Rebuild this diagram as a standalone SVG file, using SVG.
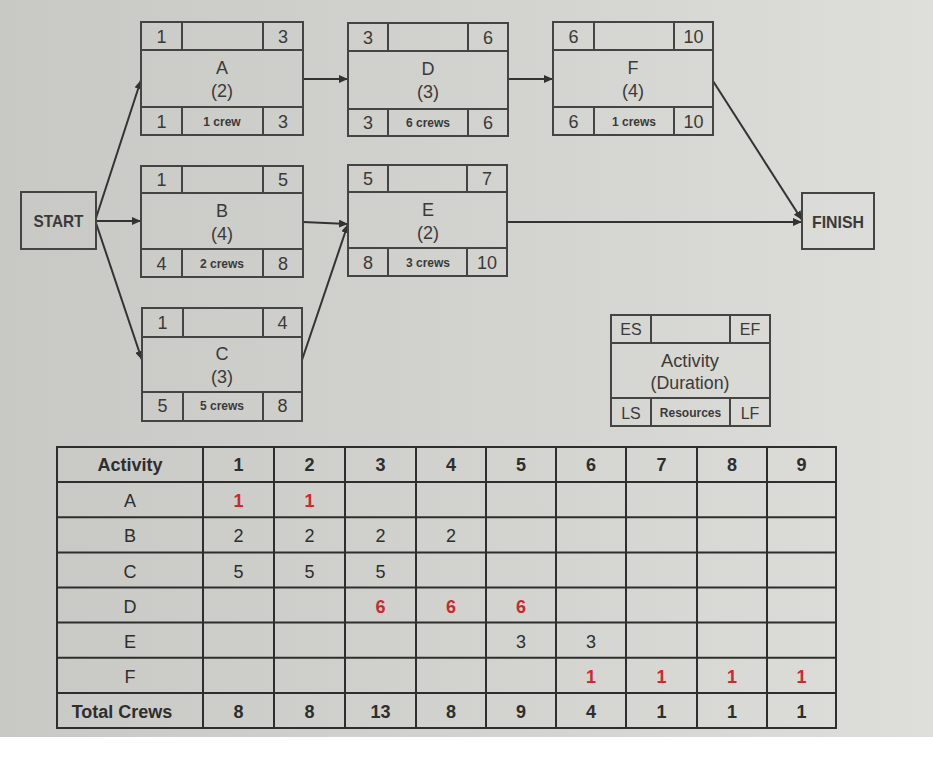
<svg xmlns="http://www.w3.org/2000/svg" width="933" height="757" viewBox="0 0 933 757">
<defs>
<linearGradient id="bg" x1="0" y1="0" x2="1" y2="0">
<stop offset="0" stop-color="#c8c8c4"/>
<stop offset="0.6" stop-color="#d4d4d0"/>
<stop offset="1" stop-color="#dededa"/>
</linearGradient>
<marker id="ah" viewBox="0 0 9 8" refX="9" refY="4" markerWidth="9" markerHeight="8" markerUnits="userSpaceOnUse" orient="auto">
<path d="M0,0 L9,4 L0,8 z" fill="#333"/>
</marker>
<style>
.box{fill:none;stroke:#444;stroke-width:2}
.ln{stroke:#444;stroke-width:2}
.t{font-family:"Liberation Sans",Arial,sans-serif;fill:#3a3a3a;text-anchor:middle}
.n{font-size:18px}
.r{font-size:12px;font-weight:bold}
.b{font-weight:bold}
.conn{stroke:#333;stroke-width:2;fill:none;marker-end:url(#ah)}
.grid{stroke:#2e2e2e;stroke-width:2;fill:none}
.tt{font-family:"Liberation Sans",Arial,sans-serif;fill:#2e2e2e;text-anchor:middle;font-size:18px}
.red{fill:#cc2a33;font-weight:bold}
</style>
</defs>
<rect x="0" y="0" width="933" height="737" fill="url(#bg)"/>
<rect x="0" y="737" width="933" height="20" fill="#ffffff"/>

<g id="connectors">
<line class="conn" x1="96" y1="218" x2="141" y2="80"/>
<line class="conn" x1="96" y1="221" x2="141" y2="221"/>
<line class="conn" x1="96" y1="223" x2="142" y2="360"/>
<line class="conn" x1="303" y1="79" x2="348" y2="79"/>
<line class="conn" x1="508" y1="79" x2="553" y2="79"/>
<line class="conn" x1="303" y1="222" x2="348" y2="224"/>
<line class="conn" x1="302" y1="360" x2="348" y2="224"/>
<line class="conn" x1="713" y1="81" x2="802" y2="220"/>
<line class="conn" x1="507" y1="222" x2="802" y2="222"/>
</g>

<g id="start">
<rect class="box" x="21" y="192" width="75" height="57"/>
<text class="t b" x="58.5" y="227" font-size="17" textLength="50" lengthAdjust="spacingAndGlyphs">START</text>
</g>

<g id="finish">
<rect class="box" x="802" y="193" width="72" height="56"/>
<text class="t b" x="838" y="228" font-size="17" textLength="52" lengthAdjust="spacingAndGlyphs">FINISH</text>
</g>

<g id="nodeA">
<rect class="box" x="141" y="22" width="162" height="113"/>
<line class="ln" x1="141" y1="50" x2="303" y2="50"/>
<line class="ln" x1="141" y1="107" x2="303" y2="107"/>
<line class="ln" x1="182" y1="22" x2="182" y2="50"/>
<line class="ln" x1="263" y1="22" x2="263" y2="50"/>
<line class="ln" x1="182" y1="107" x2="182" y2="135"/>
<line class="ln" x1="263" y1="107" x2="263" y2="135"/>
<text class="t n" x="161.5" y="43">1</text>
<text class="t n" x="283" y="43">3</text>
<text class="t n" x="222" y="74">A</text>
<text class="t n" x="222" y="97">(2)</text>
<text class="t n" x="161.5" y="128">1</text>
<text class="t r" x="222" y="126">1 crew</text>
<text class="t n" x="283" y="128">3</text>
</g>

<g id="nodeD">
<rect class="box" x="348" y="23" width="160" height="113"/>
<line class="ln" x1="348" y1="51" x2="508" y2="51"/>
<line class="ln" x1="348" y1="109" x2="508" y2="109"/>
<line class="ln" x1="388" y1="23" x2="388" y2="51"/>
<line class="ln" x1="468" y1="23" x2="468" y2="51"/>
<line class="ln" x1="388" y1="109" x2="388" y2="136"/>
<line class="ln" x1="468" y1="109" x2="468" y2="136"/>
<text class="t n" x="368" y="44">3</text>
<text class="t n" x="488" y="44">6</text>
<text class="t n" x="428" y="75">D</text>
<text class="t n" x="428" y="98">(3)</text>
<text class="t n" x="368" y="129">3</text>
<text class="t r" x="428" y="127">6 crews</text>
<text class="t n" x="488" y="129">6</text>
</g>

<g id="nodeF">
<rect class="box" x="553" y="22" width="160" height="113"/>
<line class="ln" x1="553" y1="50" x2="713" y2="50"/>
<line class="ln" x1="553" y1="107" x2="713" y2="107"/>
<line class="ln" x1="594" y1="22" x2="594" y2="50"/>
<line class="ln" x1="674" y1="22" x2="674" y2="50"/>
<line class="ln" x1="594" y1="107" x2="594" y2="135"/>
<line class="ln" x1="674" y1="107" x2="674" y2="135"/>
<text class="t n" x="573.5" y="43">6</text>
<text class="t n" x="693.5" y="43">10</text>
<text class="t n" x="633" y="74">F</text>
<text class="t n" x="633" y="97">(4)</text>
<text class="t n" x="573.5" y="128">6</text>
<text class="t r" x="634" y="126">1 crews</text>
<text class="t n" x="693.5" y="128">10</text>
</g>

<g id="nodeB">
<rect class="box" x="141" y="166" width="162" height="111"/>
<line class="ln" x1="141" y1="193" x2="303" y2="193"/>
<line class="ln" x1="141" y1="249" x2="303" y2="249"/>
<line class="ln" x1="182" y1="166" x2="182" y2="193"/>
<line class="ln" x1="263" y1="166" x2="263" y2="193"/>
<line class="ln" x1="182" y1="249" x2="182" y2="277"/>
<line class="ln" x1="263" y1="249" x2="263" y2="277"/>
<text class="t n" x="161.5" y="186">1</text>
<text class="t n" x="283" y="186">5</text>
<text class="t n" x="222" y="217">B</text>
<text class="t n" x="222" y="240">(4)</text>
<text class="t n" x="161.5" y="270">4</text>
<text class="t r" x="222" y="268">2 crews</text>
<text class="t n" x="283" y="270">8</text>
</g>

<g id="nodeE">
<rect class="box" x="348" y="165" width="159" height="111"/>
<line class="ln" x1="348" y1="192" x2="507" y2="192"/>
<line class="ln" x1="348" y1="248" x2="507" y2="248"/>
<line class="ln" x1="388" y1="165" x2="388" y2="192"/>
<line class="ln" x1="467" y1="165" x2="467" y2="192"/>
<line class="ln" x1="388" y1="248" x2="388" y2="276"/>
<line class="ln" x1="467" y1="248" x2="467" y2="276"/>
<text class="t n" x="368" y="185">5</text>
<text class="t n" x="487" y="185">7</text>
<text class="t n" x="428" y="216">E</text>
<text class="t n" x="428" y="239">(2)</text>
<text class="t n" x="368" y="269">8</text>
<text class="t r" x="428" y="267">3 crews</text>
<text class="t n" x="487" y="269">10</text>
</g>

<g id="nodeC">
<rect class="box" x="142" y="308" width="160" height="113"/>
<line class="ln" x1="142" y1="337" x2="302" y2="337"/>
<line class="ln" x1="142" y1="392" x2="302" y2="392"/>
<line class="ln" x1="183" y1="308" x2="183" y2="337"/>
<line class="ln" x1="263" y1="308" x2="263" y2="337"/>
<line class="ln" x1="183" y1="392" x2="183" y2="421"/>
<line class="ln" x1="263" y1="392" x2="263" y2="421"/>
<text class="t n" x="162.5" y="329">1</text>
<text class="t n" x="282.5" y="329">4</text>
<text class="t n" x="222" y="360">C</text>
<text class="t n" x="222" y="383">(3)</text>
<text class="t n" x="162.5" y="412">5</text>
<text class="t r" x="222" y="410">5 crews</text>
<text class="t n" x="282.5" y="412">8</text>
</g>

<g id="legend">
<rect class="box" x="611" y="315" width="159" height="111"/>
<line class="ln" x1="611" y1="343" x2="770" y2="343"/>
<line class="ln" x1="611" y1="398" x2="770" y2="398"/>
<line class="ln" x1="651" y1="315" x2="651" y2="343"/>
<line class="ln" x1="730" y1="315" x2="730" y2="343"/>
<line class="ln" x1="651" y1="398" x2="651" y2="426"/>
<line class="ln" x1="730" y1="398" x2="730" y2="426"/>
<text class="t" font-size="16" x="631" y="335">ES</text>
<text class="t" font-size="16" x="750" y="335">EF</text>
<text class="t" font-size="18" x="690" y="367" textLength="58" lengthAdjust="spacingAndGlyphs">Activity</text>
<text class="t" font-size="18" x="690" y="389" textLength="79" lengthAdjust="spacingAndGlyphs">(Duration)</text>
<text class="t" font-size="16" x="631" y="419">LS</text>
<text class="t r" x="690.5" y="417">Resources</text>
<text class="t" font-size="16" x="750" y="419">LF</text>
</g>

<g id="table">
<rect x="57" y="447" width="779" height="281" fill="#cdcdc9" class="grid"/>
<line class="grid" x1="57" y1="482.1" x2="836" y2="482.1"/>
<line class="grid" x1="57" y1="517.2" x2="836" y2="517.2"/>
<line class="grid" x1="57" y1="552.4" x2="836" y2="552.4"/>
<line class="grid" x1="57" y1="587.5" x2="836" y2="587.5"/>
<line class="grid" x1="57" y1="622.6" x2="836" y2="622.6"/>
<line class="grid" x1="57" y1="657.7" x2="836" y2="657.7"/>
<line class="grid" x1="57" y1="692.9" x2="836" y2="692.9"/>
<line class="grid" x1="203" y1="447" x2="203" y2="728"/>
<line class="grid" x1="274" y1="447" x2="274" y2="728"/>
<line class="grid" x1="345" y1="447" x2="345" y2="728"/>
<line class="grid" x1="416" y1="447" x2="416" y2="728"/>
<line class="grid" x1="486" y1="447" x2="486" y2="728"/>
<line class="grid" x1="556" y1="447" x2="556" y2="728"/>
<line class="grid" x1="626" y1="447" x2="626" y2="728"/>
<line class="grid" x1="697" y1="447" x2="697" y2="728"/>
<line class="grid" x1="767" y1="447" x2="767" y2="728"/>

<text class="tt b" x="130" y="471" font-size="19">Activity</text>
<text class="tt b" x="238.5" y="471">1</text>
<text class="tt b" x="309.5" y="471">2</text>
<text class="tt b" x="380.5" y="471">3</text>
<text class="tt b" x="451" y="471">4</text>
<text class="tt b" x="521" y="471">5</text>
<text class="tt b" x="591" y="471">6</text>
<text class="tt b" x="661.5" y="471">7</text>
<text class="tt b" x="732" y="471">8</text>
<text class="tt b" x="801.5" y="471">9</text>

<text class="tt" x="130" y="507">A</text>
<text class="tt red" x="238.5" y="507">1</text>
<text class="tt red" x="309.5" y="507">1</text>

<text class="tt" x="130" y="542">B</text>
<text class="tt" x="238.5" y="542">2</text>
<text class="tt" x="309.5" y="542">2</text>
<text class="tt" x="380.5" y="542">2</text>
<text class="tt" x="451" y="542">2</text>

<text class="tt" x="130" y="578">C</text>
<text class="tt" x="238.5" y="578">5</text>
<text class="tt" x="309.5" y="578">5</text>
<text class="tt" x="380.5" y="578">5</text>

<text class="tt" x="130" y="613">D</text>
<text class="tt red" x="380.5" y="613">6</text>
<text class="tt red" x="451" y="613">6</text>
<text class="tt red" x="521" y="613">6</text>

<text class="tt" x="130" y="648">E</text>
<text class="tt" x="521" y="648">3</text>
<text class="tt" x="591" y="648">3</text>

<text class="tt" x="130" y="683">F</text>
<text class="tt red" x="591" y="683">1</text>
<text class="tt red" x="661.5" y="683">1</text>
<text class="tt red" x="732" y="683">1</text>
<text class="tt red" x="801.5" y="683">1</text>

<text class="tt b" x="122" y="718">Total Crews</text>
<text class="tt b" x="238.5" y="718">8</text>
<text class="tt b" x="309.5" y="718">8</text>
<text class="tt b" x="380.5" y="718">13</text>
<text class="tt b" x="451" y="718">8</text>
<text class="tt b" x="521" y="718">9</text>
<text class="tt b" x="591" y="718">4</text>
<text class="tt b" x="661.5" y="718">1</text>
<text class="tt b" x="732" y="718">1</text>
<text class="tt b" x="801.5" y="718">1</text>
</g>
</svg>
